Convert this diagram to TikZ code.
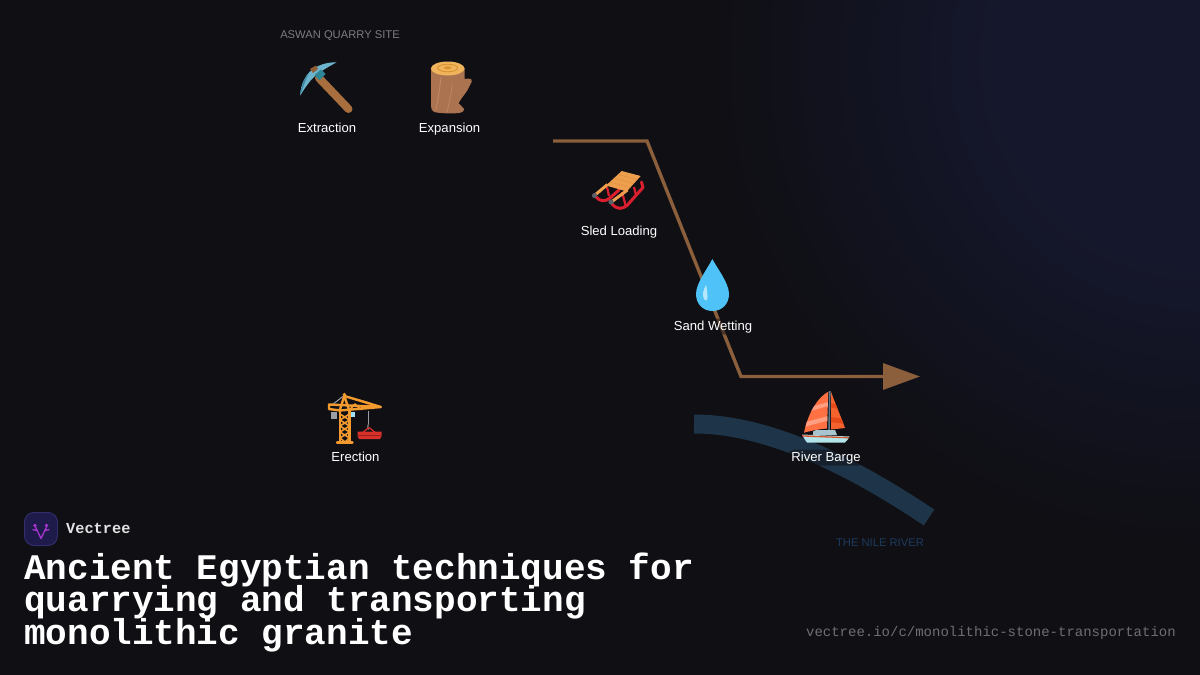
\documentclass[tikz,border=0pt]{standalone}
\usepackage{fontspec}
\setmainfont{Liberation Sans}
\setmonofont{Liberation Mono}
\usetikzlibrary{arrows.meta}
\definecolor{bgc}{HTML}{0F0F14}
\definecolor{g1}{HTML}{15172C}
\definecolor{stone}{HTML}{8B5E3C}
\definecolor{river}{HTML}{1E3448}
\definecolor{nile}{HTML}{1E3A5F}
\definecolor{hndl}{HTML}{A86E3E}
\definecolor{axe}{HTML}{6DB3CC}
\definecolor{axed}{HTML}{3E8AA6}
\definecolor{axet}{HTML}{2E8596}
\definecolor{bark}{HTML}{AB7350}
\definecolor{barkl}{HTML}{BE8A66}
\definecolor{ringa}{HTML}{EFB45C}
\definecolor{ringb}{HTML}{D9922F}
\definecolor{plank}{HTML}{EE9F4E}
\definecolor{plankd}{HTML}{D98B3E}
\definecolor{runner}{HTML}{DB1F2E}
\definecolor{tipg}{HTML}{5D6068}
\definecolor{drop}{HTML}{4FC3F7}
\definecolor{dropl}{HTML}{B5E6FC}
\definecolor{sail}{HTML}{FF7043}
\definecolor{sailb}{HTML}{FF9E80}
\definecolor{saild}{HTML}{E64A19}
\definecolor{saile}{HTML}{F4622D}
\definecolor{hull}{HTML}{B2E4EA}
\definecolor{hulr}{HTML}{D9532B}
\definecolor{cabin}{HTML}{A9C4CE}
\definecolor{mast}{HTML}{5B7C8C}
\definecolor{crn}{HTML}{F29A2E}
\definecolor{crnr}{HTML}{D9302A}
\definecolor{crng}{HTML}{9AA0A6}
\definecolor{logof}{HTML}{1E1B4B}
\definecolor{logos}{HTML}{312E6B}
\definecolor{logov}{HTML}{A435CF}
\tikzset{
  lbl/.style={font=\fontsize{13.1}{15}\selectfont, text=white, anchor=base, fill=bgc, fill opacity=.5, text opacity=1, rounded corners=5pt, inner xsep=3pt, inner ysep=2pt},
  smallcap/.style={font=\fontsize{11.2}{13}\selectfont, anchor=base, inner sep=0pt},
  ttl/.style={font=\ttfamily\bfseries\fontsize{36}{36}\selectfont, text=white, anchor=base west, inner sep=0pt},
  stoneline/.style={draw=stone, line width=3.4pt, line join=miter},
}
\begin{document}
\begin{tikzpicture}[x=1pt,y=-1pt]
\useasboundingbox (0,0) rectangle (1200,675);
\fill[bgc] (0,0) rectangle (1200,675);
\begin{scope}
  \clip (0,0) rectangle (1200,675);
  \foreach \r in {490,480,...,210} {
    \pgfmathsetmacro{\p}{(490-\r)/280*100}
    \fill[g1!\p!bgc] (1200,60) circle[radius=\r];
  }
\end{scope}

% river
\coordinate (rivera) at (694,424);
\coordinate (riverb) at (929,517.5);
\draw[river, line width=19pt] (rivera) .. controls (758,424) and (836.3,455.2) .. (riverb);

% stone route
\coordinate (routea) at (553,141);
\coordinate (routeb) at (647,141);
\coordinate (routec) at (741,376.5);
\coordinate (routed) at (920,376.5);
\draw[stoneline, -{Triangle[length=37pt,width=26pt]}] (routea) -- (routeb) -- (routec) -- (routed);

% pickaxe
\begin{scope}
  \draw[hndl, line width=8pt, line cap=round] (319,78) -- (348.5,109);
  \fill[axe] (336.7,62.3) .. controls (325,62) and (310,66.5) .. (304,80)
     .. controls (301.5,85) and (300.3,90) .. (300.3,95.5)
     .. controls (303.5,90) and (307,85) .. (311,80)
     .. controls (317,73.5) and (326,68) .. (336.7,62.3) -- cycle;
  \fill[axed] (300.3,95.5) .. controls (301,86) and (304,78) .. (309,73)
     .. controls (306,79) and (303,87) .. (300.3,95.5) -- cycle;
  \fill[hndl!85!black] (310,69) -- (316,65.5) -- (318,69) -- (313,73) -- cycle;
  \fill[axet] (314.5,75) -- (321,69.5) -- (325.5,74) -- (319.5,80.5) -- cycle;
\end{scope}

% log
\begin{scope}
  \fill[bark] (431,68) -- (431,106) .. controls (431,109) and (432,111) .. (434,112)
     .. controls (440,113.5) and (456,114) .. (461,112.5)
     .. controls (463,112) and (464,111) .. (464,109)
     .. controls (462,106) and (460,105) .. (458.5,103)
     .. controls (462,97) and (468,91) .. (470,85)
     .. controls (472,83) and (472.5,80) .. (471,79)
     .. controls (469,78) and (466,79) .. (464.5,79) -- (464.5,68) -- cycle;
  \fill[ringa] (447.7,68.5) ellipse[x radius=16.8, y radius=7];
  \draw[ringb, line width=.9pt] (447.7,68) ellipse[x radius=10, y radius=3.8];
  \fill[ringb] (447.7,67.8) ellipse[x radius=4, y radius=1.5];
  \draw[barkl, line width=.9pt, line cap=round] (441,77) .. controls (440,88) and (438,98) .. (436,110);
  \draw[barkl, line width=.7pt, line cap=round] (452,84) .. controls (452,92) and (449,102) .. (447,112);
\end{scope}

% sled
\begin{scope}
  \draw[runner, line width=3pt, line cap=round, line join=round]
     (596,197) .. controls (600,201.5) and (605,202) .. (610,198) -- (619,190);
  \draw[runner, line width=3pt, line cap=round, line join=round]
     (612,204) .. controls (617,209.5) and (622,209.5) .. (627,205.5) -- (643,187.5) -- (641.5,182);
  \draw[runner, line width=2.2pt] (607,187) -- (609,196) (622,192) -- (625.5,205) (634,187) -- (636,195);
  \draw[plank, line width=3pt, line cap=butt] (607.5,184.5) -- (595,195) (627.5,190) -- (612,201.5);
  \fill[plank] (621.7,171) -- (640.7,176) -- (626.7,191.5) -- (606,185.5) -- cycle;
  \draw[plankd, line width=.35pt] (618,174.5) -- (637,179.5) (614,178) -- (633,183.5) (610,182) -- (629.5,187.5);
  \fill[tipg] (594.5,195.5) circle[radius=2.6];
  \fill[tipg] (611,202) circle[radius=2.6];
\end{scope}

% droplet
\begin{scope}
  \fill[drop] (712.3,259) .. controls (708,268) and (696,283) .. (696,294)
     .. controls (696,304) and (703,311) .. (712.5,311)
     .. controls (722,311) and (729,304) .. (729,294)
     .. controls (729,283) and (717,268) .. (712.3,259) -- cycle;
  \fill[dropl] (706,285) .. controls (703,290) and (702,295) .. (704,299)
     .. controls (706,302) and (708,300) .. (707.5,296) .. controls (707,292) and (707,288) .. (706,285) -- cycle;
\end{scope}

% boat
\begin{scope}
  \fill[sail] (828.3,391.7) .. controls (818,397) and (808,413) .. (804,432.7)
     .. controls (812,430.5) and (820,429) .. (827,428.5) -- cycle;
  \begin{scope}
    \clip (828.3,391.7) .. controls (818,397) and (808,413) .. (804,432.7)
     .. controls (812,430.5) and (820,429) .. (827,428.5) -- cycle;
    \fill[sailb] (800,423.5) -- (830,415.5) -- (830,420) -- (800,428) -- cycle;
    \fill[sailb] (800,410) -- (830,401.5) -- (830,405.5) -- (800,414) -- cycle;
  \end{scope}
  \fill[saile] (831,391.7) .. controls (835,403) and (841,417) .. (845,428)
     -- (831,429.5) -- cycle;
  \begin{scope}
    \clip (831,391.7) .. controls (835,403) and (841,417) .. (845,428) -- (831,429.5) -- cycle;
    \fill[saild] (830,403) -- (846,406) -- (846,410) -- (830,407.5) -- cycle;
    \fill[saild] (830,417) -- (846,419) -- (846,424) -- (830,422) -- cycle;
  \end{scope}
  \draw[mast, line width=1.6pt] (829.8,391) -- (829,432);
  \fill[cabin] (813,431.5) -- (816,430) -- (835,430) -- (837,435) -- (813,435) -- cycle;
  \fill[hull] (802,434.5) -- (849.5,436.5) .. controls (848,439) and (847,441) .. (845,442.5)
     -- (807,442.5) .. controls (805,440) and (803,437) .. (802,434.5) -- cycle;
  \fill[hulr] (802,435.2) -- (849,437.2) -- (848.6,438.4) -- (802.6,436.6) -- cycle;
\end{scope}

% crane
\begin{scope}[line join=round]
  \fill[crng] (330.5,411.5) rectangle (336.5,418.5);
  \draw[crng, line width=1pt] (344,395.5) -- (332,405) (344,395.5) -- (370,403);
  \draw[crn, line width=2.4pt]
     (329,404.5) -- (381,407) -- (340,410.5) -- (329,409) -- cycle
     (344.3,396) -- (339.5,411) (344.3,396) -- (349.5,411) (344.3,396) -- (381,407);
  \draw[crn, line width=1.6pt] (349.5,410) -- (355,404) -- (361,409.5) -- (367,405.5) -- (373,408.5);
  \fill[crn] (344.3,394.5) circle[radius=1.8];
  \draw[crn, line width=2.4pt] (340,411) -- (340,442) (349.5,411) -- (349.5,442);
  \draw[crn, line width=1.6pt]
     (340,414) -- (349.5,420) -- (340,426) -- (349.5,432) -- (340,438) -- (345,442)
     (349.5,414) -- (340,420) -- (349.5,426) -- (340,432) -- (349.5,438) -- (345,442);
  \draw[crn, line width=2.4pt, line cap=round] (337,442.5) -- (352.5,442.5);
  \fill[drop!55!white] (351,412) rectangle (355,416.5);
  \draw[crng, line width=1.8pt] (368.5,411) -- (368.5,424);
  \draw[crng!70!black, line width=1.4pt] (368.5,424) -- (367.5,428) -- (369,429.5);
  \draw[crnr, line width=1.2pt] (362,433) -- (369,427.5) -- (376,433);
  \fill[crnr] (357.5,431.5) -- (381.5,431.5) -- (381.5,436) -- (380,439) -- (359,439) -- (357.5,436) -- cycle;
  \fill[crnr!70!black] (357.5,434.6) rectangle (381.5,435.4);
\end{scope}

% labels
\node[smallcap, text=white!46!bgc] (quarry) at (340,38) {ASWAN QUARRY SITE};
\node[lbl] (extraction) at (327,132) {Extraction};
\node[lbl] (expansion) at (449.5,132) {Expansion};
\node[lbl] (sled) at (619,235) {Sled Loading};
\node[lbl] (wetting) at (713,330) {Sand Wetting};
\node[lbl] (erection) at (355.5,461) {Erection};
\node[lbl] (barge) at (826,461) {River Barge};
\node[smallcap, text=nile] (nilelabel) at (880,546) {THE NILE RIVER};

% brand
\draw[logos, fill=logof, line width=1pt, rounded corners=9.5pt] (24.5,512.5) rectangle (57.5,545.5);
\draw[logov, line width=1.3pt, line join=round] (35.5,527) -- (41,538.5) -- (46.5,527)
   (32.5,529.5) -- (37,530.5) (49.5,529.5) -- (45,530.5);
\fill[logov] (35,525.5) circle[radius=1.8] (46.5,525.5) circle[radius=1.8];
\node[font=\ttfamily\bfseries\fontsize{15.3}{16}\selectfont, text=white!88!bgc, anchor=base west, inner sep=0pt] (brand) at (66,533) {Vectree};

% title
\node[ttl] (t1) at (24,579) {Ancient Egyptian techniques for};
\node[ttl] (t2) at (24,611) {quarrying and transporting};
\node[ttl] (t3) at (24,644) {monolithic granite};
\node[font=\ttfamily\fontsize{14}{14}\selectfont, text=white!40!bgc, anchor=base east, inner sep=0pt] (url) at (1176,636.5) {vectree.io/c/monolithic-stone-transportation};
\end{tikzpicture}
\end{document}
